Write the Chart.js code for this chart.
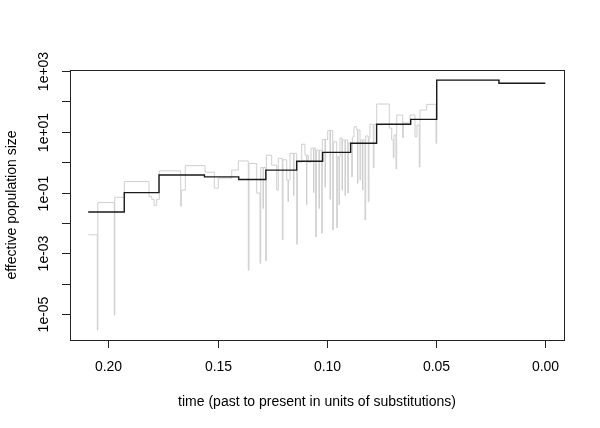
<!DOCTYPE html>
<html><head><meta charset="utf-8">
<script src="https://cdn.jsdelivr.net/npm/chart.js@4"></script>
<style>html,body{margin:0;padding:0;background:#fff}#wrap{width:600px;height:428px}</style>
</head><body><div id="wrap"><canvas id="c" width="600" height="428"></canvas></div>
<script>
// classic skyline (grey): start times of each interval (past -> present) and Ne values
const greyTimes = [0.20915,0.20503,0.20480,0.19725,0.19703,0.19268,0.18137,0.18014,0.17908,0.17785,
  0.17666,0.16686,0.16659,0.16476,0.15574,0.15149,0.14966,0.14352,0.14050,0.13593,
  0.13561,0.13208,0.13057,0.13025,0.12920,0.12900,0.12796,0.12769,0.12522,0.12293,0.12220,0.12037,
  0.12005,0.11835,0.11776,0.11756,0.11684,0.11524,0.11504,0.11378,0.11350,0.11149,0.10998,0.10929,0.10909,
  0.10847,0.10723,0.10609,0.10589,0.10508,
  0.10481,0.10357,0.10337,0.10233,0.10206,0.10082,0.10062,0.09959,0.09854,0.09834,0.09730,0.09703,0.09547,
  0.09519,0.09442,0.09422,0.09396,0.09304,
  0.09281,0.09167,0.09147,0.09043,0.09016,0.08860,0.08833,0.08755,0.08632,0.08595,0.08575,0.08481,
  0.08449,0.08366,0.08346,0.08252,
  0.08220,0.08101,0.08069,0.08023,0.07872,0.07840,0.07716,0.07140,0.07030,0.06957,
  0.06924,0.06833,0.06801,0.06526,0.06499,0.06192,0.05963,0.05872,0.05767,0.05735,
  0.05428,0.05002,0.04970,0.02119,0.0];
const greyValues = [0.0041,3e-6,0.047,9.3e-6,0.070,0.23,0.074,0.060,0.038,0.060,
  0.52,0.035,0.12,0.77,0.47,0.14,0.30,0.55,1.1,2.8e-4,
  0.9,0.096,4.7e-4,0.67,0.03,0.67,5.7e-4,1.7,0.8,0.12,1.35,2.8e-3,
  1.2,0.26,0.05,0.26,1.95,0.08,1.95,2e-3,1.0,3.9,1.7,0.04,1.7,
  1.0,2.9,0.1,2.9,3.5e-3,
  2.5,0.03,2.5,4.6e-3,5.6,0.15,5.6,11,0.06,11,5.9e-3,4.7,7e-3,
  1.5,0.04,1.5,6.3,0.12,
  5.4,0.08,5.4,0.097,4.3,0.33,6.7,14.7,11.5,0.2,11.5,0.26,
  5.4,0.12,5.4,0.0125,
  7.3,0.05,6.3,17.7,0.65,17.7,82,13.3,5.4,1.4,
  7.9,0.6,35.6,6.3,19.5,35.6,6.9,16.7,0.69,52,
  80,4.2,500,395,395];
// generalized skyline (black)
const blackTimes = [0.2092,0.1927,0.1768,0.1560,0.1403,0.1279,0.1138,0.1019,0.0891,0.0772,0.0616,0.0497,0.0212,0.0];
const blackValues = [0.023,0.10,0.38,0.33,0.27,0.55,1.07,2.1,4.2,17.8,25.6,500,395,395];

const xTicks = [0.20,0.15,0.10,0.05,0.00];
const xTickLabels = ["0.20","0.15","0.10","0.05","0.00"];
const yTicks = [1e3,1e2,1e1,1,1e-1,1e-2,1e-3,1e-4,1e-5];
const yTickLabels = ["1e+03","","1e+01","","1e-01","","1e-03","","1e-05"];
const xTitle = "time (past to present in units of substitutions)";
const yTitle = "effective population size";

const FONT = '14px "Liberation Sans", Arial, sans-serif';

const rAxes = {
  id: 'rAxes',
  afterDraw(chart) {
    const ctx = chart.ctx, a = chart.chartArea;
    const xs = chart.scales.x, ys = chart.scales.y;
    ctx.save();
    ctx.strokeStyle = '#222';
    ctx.lineWidth = 1;
    ctx.strokeRect(Math.round(a.left)+0.5, Math.round(a.top)+0.5, Math.round(a.right-a.left), Math.round(a.bottom-a.top));
    ctx.fillStyle = '#000';
    ctx.font = FONT;
    ctx.textAlign = 'center'; ctx.textBaseline = 'middle';
    xTicks.forEach((t,i) => {
      const px = Math.round(xs.getPixelForValue(t))+0.5;
      ctx.beginPath(); ctx.moveTo(px, a.bottom); ctx.lineTo(px, a.bottom+8); ctx.stroke();
      ctx.fillText(xTickLabels[i], px, a.bottom+27);
    });
    ctx.fillText(xTitle, (a.left+a.right)/2, a.bottom+62);
    yTicks.forEach((v,i) => {
      const py = Math.round(ys.getPixelForValue(v))+0.5;
      ctx.beginPath(); ctx.moveTo(a.left, py); ctx.lineTo(a.left-8, py); ctx.stroke();
      if (yTickLabels[i]) {
        ctx.save(); ctx.translate(a.left-26, py); ctx.rotate(-Math.PI/2);
        ctx.fillText(yTickLabels[i], 0, 0); ctx.restore();
      }
    });
    ctx.save(); ctx.translate(12, (a.top+a.bottom)/2); ctx.rotate(-Math.PI/2);
    ctx.fillText(yTitle, 0, 0); ctx.restore();
    ctx.restore();
  }
};

new Chart(document.getElementById('c'), {
  type: 'line',
  data: {
    datasets: [
      { label: 'generalized', data: blackTimes.map((t,i)=>({x:t,y:blackValues[i]})),
        borderColor: '#1a1a1a', borderWidth: 1.4, stepped: 'before', pointRadius: 0, fill: false },
      { label: 'classic', data: greyTimes.map((t,i)=>({x:t,y:greyValues[i]})),
        borderColor: '#cfcfcf', borderWidth: 1, stepped: 'before', pointRadius: 0, fill: false }
    ]
  },
  options: {
    responsive: false, animation: false, devicePixelRatio: 1,
    layout: { padding: { left: 70, right: 36, top: 70, bottom: 88 } },
    plugins: { legend: { display: false }, tooltip: { enabled: false } },
    scales: {
      x: { type: 'linear', min: -0.00856, max: 0.21753, reverse: true, display: false },
      y: { type: 'logarithmic', min: 1.416e-6, max: 1079, display: false }
    }
  },
  plugins: [rAxes]
});
</script></body></html>
